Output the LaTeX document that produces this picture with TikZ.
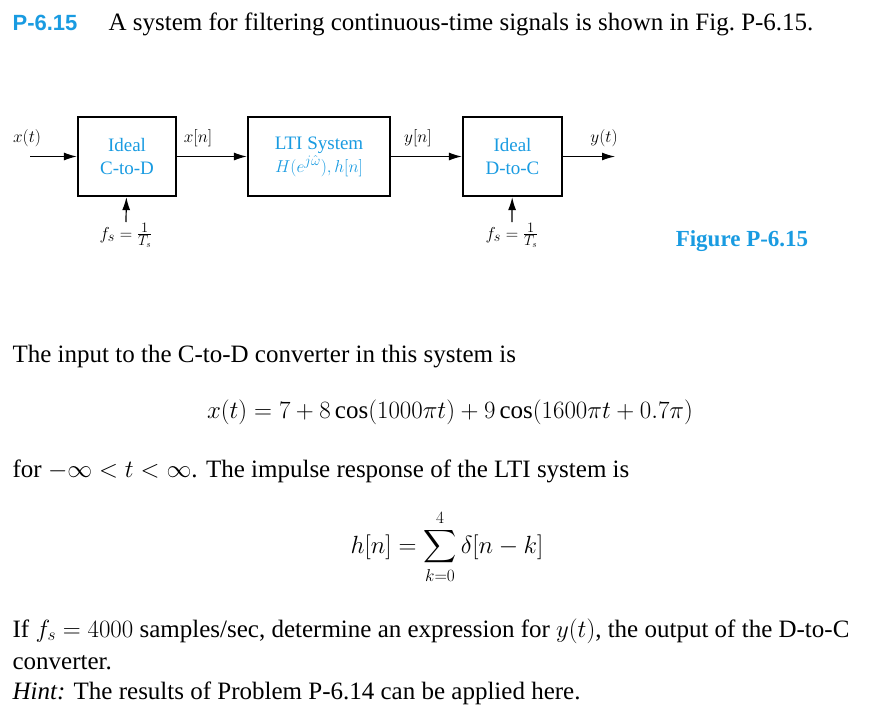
\documentclass[tikz,border=0pt]{standalone}
\usepackage{amsmath, amssymb}
\usepackage{fontspec}
\setmainfont{Liberation Serif}
\setsansfont{Liberation Sans}
\usetikzlibrary{positioning, arrows.meta}
\definecolor{pblue}{RGB}{25,155,225}

\begin{document}
\begin{tikzpicture}[x=1pt, y=-1pt, line width=1.2pt,
  blk/.style = {draw, line width=2.2pt, minimum height=79pt, text=pblue, align=center, font=\fontsize{19}{23}\selectfont},
  sig/.style = {font=\fontsize{19}{23}\selectfont},
  body/.style = {anchor=base west, inner sep=0pt, font=\fontsize{25}{29}\selectfont},
  >={Latex[length=13pt, width=8pt]}]
\useasboundingbox (0,0) rectangle (893,710);

\node[anchor=base west, inner sep=0pt, text=pblue, font=\sffamily\bfseries\fontsize{22}{26}\selectfont] (num) at (12,30) {P-6.15};
\node[body] (title) at (108,30) {A system for filtering continuous-time signals is shown in Fig.\ P-6.15.};

% block diagram
\node[blk, minimum width=98pt] (cd) at (127,156.5) {Ideal\\C-to-D};
\node[blk, minimum width=142pt] (lti) at (319,156.5) {LTI System\\$H(e^{j\hat\omega}),h[n]$};
\node[blk, minimum width=99pt] (dc) at (512.5,156.5) {Ideal\\D-to-C};
\coordinate (in) at (30,156.5);
\coordinate (out) at (615,156.5);
\coordinate (cdclk) at (126,222);
\coordinate (dcclk) at (512,222);

\draw[->] (in) -- (cd);
\draw[->] (cd) -- (lti);
\draw[->] (lti) -- (dc);
\draw[->] (dc) -- (out);
\draw[->] (cdclk) -- (cd);
\draw[->] (dcclk) -- (dc);

\node[sig] (xt) at (27,138) {$x(t)$};
\node[sig] (xn) at (198,138) {$x[n]$};
\node[sig] (yn) at (418,138) {$y[n]$};
\node[sig] (yt) at (604,138) {$y(t)$};
\node[sig, below=-3pt of cdclk] (fs1) {$f_s=\frac{1}{T_s}$};
\node[sig, below=-3pt of dcclk] (fs2) {$f_s=\frac{1}{T_s}$};
\node[text=pblue, font=\bfseries\fontsize{23}{27}\selectfont] (fig) at (742,241) {Figure P-6.15};

% problem text
\node[body] (l1) at (12,362) {The input to the C-to-D converter in this system is};
\node[font=\fontsize{25}{29}\selectfont] (eq1) at (450,412) {$x(t)=7+8\cos(1000\pi t)+9\cos(1600\pi t+0.7\pi)$};
\node[body] (l2) at (12,477) {for $-\infty<t<\infty$. The impulse response of the LTI system is};
\node[font=\fontsize{23}{27}\selectfont] (eq2) at (447,547) {$\displaystyle h[n]=\sum_{k=0}^{4}\delta[n-k]$};
\node[body] (l3) at (12,637) {If $f_s=4000$ samples/sec, determine an expression for $y(t)$, the output of the D-to-C};
\node[body] (l4) at (12,669) {converter.};
\node[body] (l5) at (12,699) {\textit{Hint:} The results of Problem P-6.14 can be applied here.};
\end{tikzpicture}
\end{document}
